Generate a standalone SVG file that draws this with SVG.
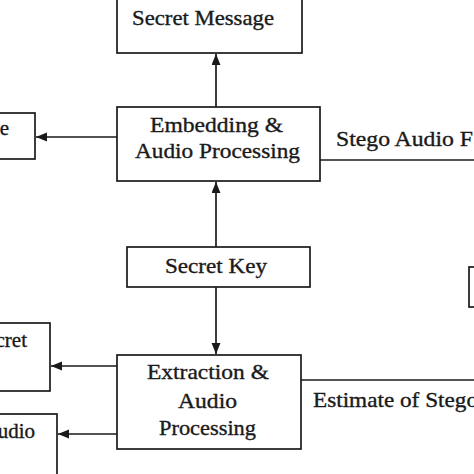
<svg xmlns="http://www.w3.org/2000/svg" width="474" height="474" viewBox="0 0 474 474">
<defs>
<marker id="ah" markerUnits="userSpaceOnUse" markerWidth="12" markerHeight="10" refX="11" refY="4.5" orient="auto">
<path d="M0,0 L11,4.5 L0,9 z" fill="#1a1a1a"/>
</marker>
<style>
.box{fill:#fff;stroke:#1a1a1a;stroke-width:1.7}
.t{font-family:"Liberation Serif","Times New Roman",serif;font-size:21px;fill:#1a1a1a;stroke:#1a1a1a;stroke-width:0.35}
.c{stroke:#1a1a1a;stroke-width:1.7;fill:none}
.a{marker-end:url(#ah)}
</style>
</defs>
<rect width="474" height="474" fill="#fff"/>
<g id="secret-message">
<rect class="box" x="117" y="-1" width="185" height="54"/>
<text class="t" x="132" y="25" textLength="142" lengthAdjust="spacingAndGlyphs">Secret Message</text>
</g>
<g id="embedding">
<rect class="box" x="117" y="107" width="203" height="74"/>
<text class="t" x="150" y="132" textLength="133" lengthAdjust="spacingAndGlyphs">Embedding &amp;</text>
<text class="t" x="135" y="158" textLength="165" lengthAdjust="spacingAndGlyphs">Audio Processing</text>
</g>
<g id="left-top">
<rect class="box" x="-20" y="113" width="55" height="46"/>
<text class="t" x="9" y="135" text-anchor="end">e</text>
</g>
<g id="secret-key">
<rect class="box" x="127" y="247" width="183" height="40"/>
<text class="t" x="165" y="273" textLength="102" lengthAdjust="spacingAndGlyphs">Secret Key</text>
</g>
<g id="right-box">
<rect class="box" x="469" y="267" width="20" height="40"/>
</g>
<g id="extraction">
<rect class="box" x="117" y="355" width="184" height="94"/>
<text class="t" x="147" y="379" textLength="122" lengthAdjust="spacingAndGlyphs">Extraction &amp;</text>
<text class="t" x="178" y="408" textLength="59" lengthAdjust="spacingAndGlyphs">Audio</text>
<text class="t" x="159" y="435" textLength="97" lengthAdjust="spacingAndGlyphs">Processing</text>
</g>
<g id="left-mid">
<rect class="box" x="-20" y="323" width="70" height="68"/>
<text class="t" x="27" y="347" text-anchor="end">cret</text>
</g>
<g id="left-bottom">
<rect class="box" x="-20" y="414" width="77" height="80"/>
<text class="t" x="35" y="438" text-anchor="end">udio</text>
</g>
<g id="labels">
<text class="t" x="336" y="146" textLength="137" lengthAdjust="spacingAndGlyphs">Stego Audio F</text>
<text class="t" x="313" y="407" textLength="165" lengthAdjust="spacingAndGlyphs">Estimate of Stego</text>
</g>
<g id="connectors">
<line class="c a" x1="216" y1="107" x2="216" y2="54"/>
<line class="c a" x1="216" y1="247" x2="216" y2="182"/>
<line class="c a" x1="216" y1="287" x2="216" y2="354"/>
<line class="c a" x1="117" y1="137" x2="36" y2="137"/>
<line class="c a" x1="117" y1="366" x2="51" y2="366"/>
<line class="c a" x1="117" y1="434" x2="58" y2="434"/>
<line class="c" x1="320" y1="160" x2="474" y2="160"/>
<line class="c" x1="301" y1="380" x2="474" y2="380"/>
</g>
</svg>
